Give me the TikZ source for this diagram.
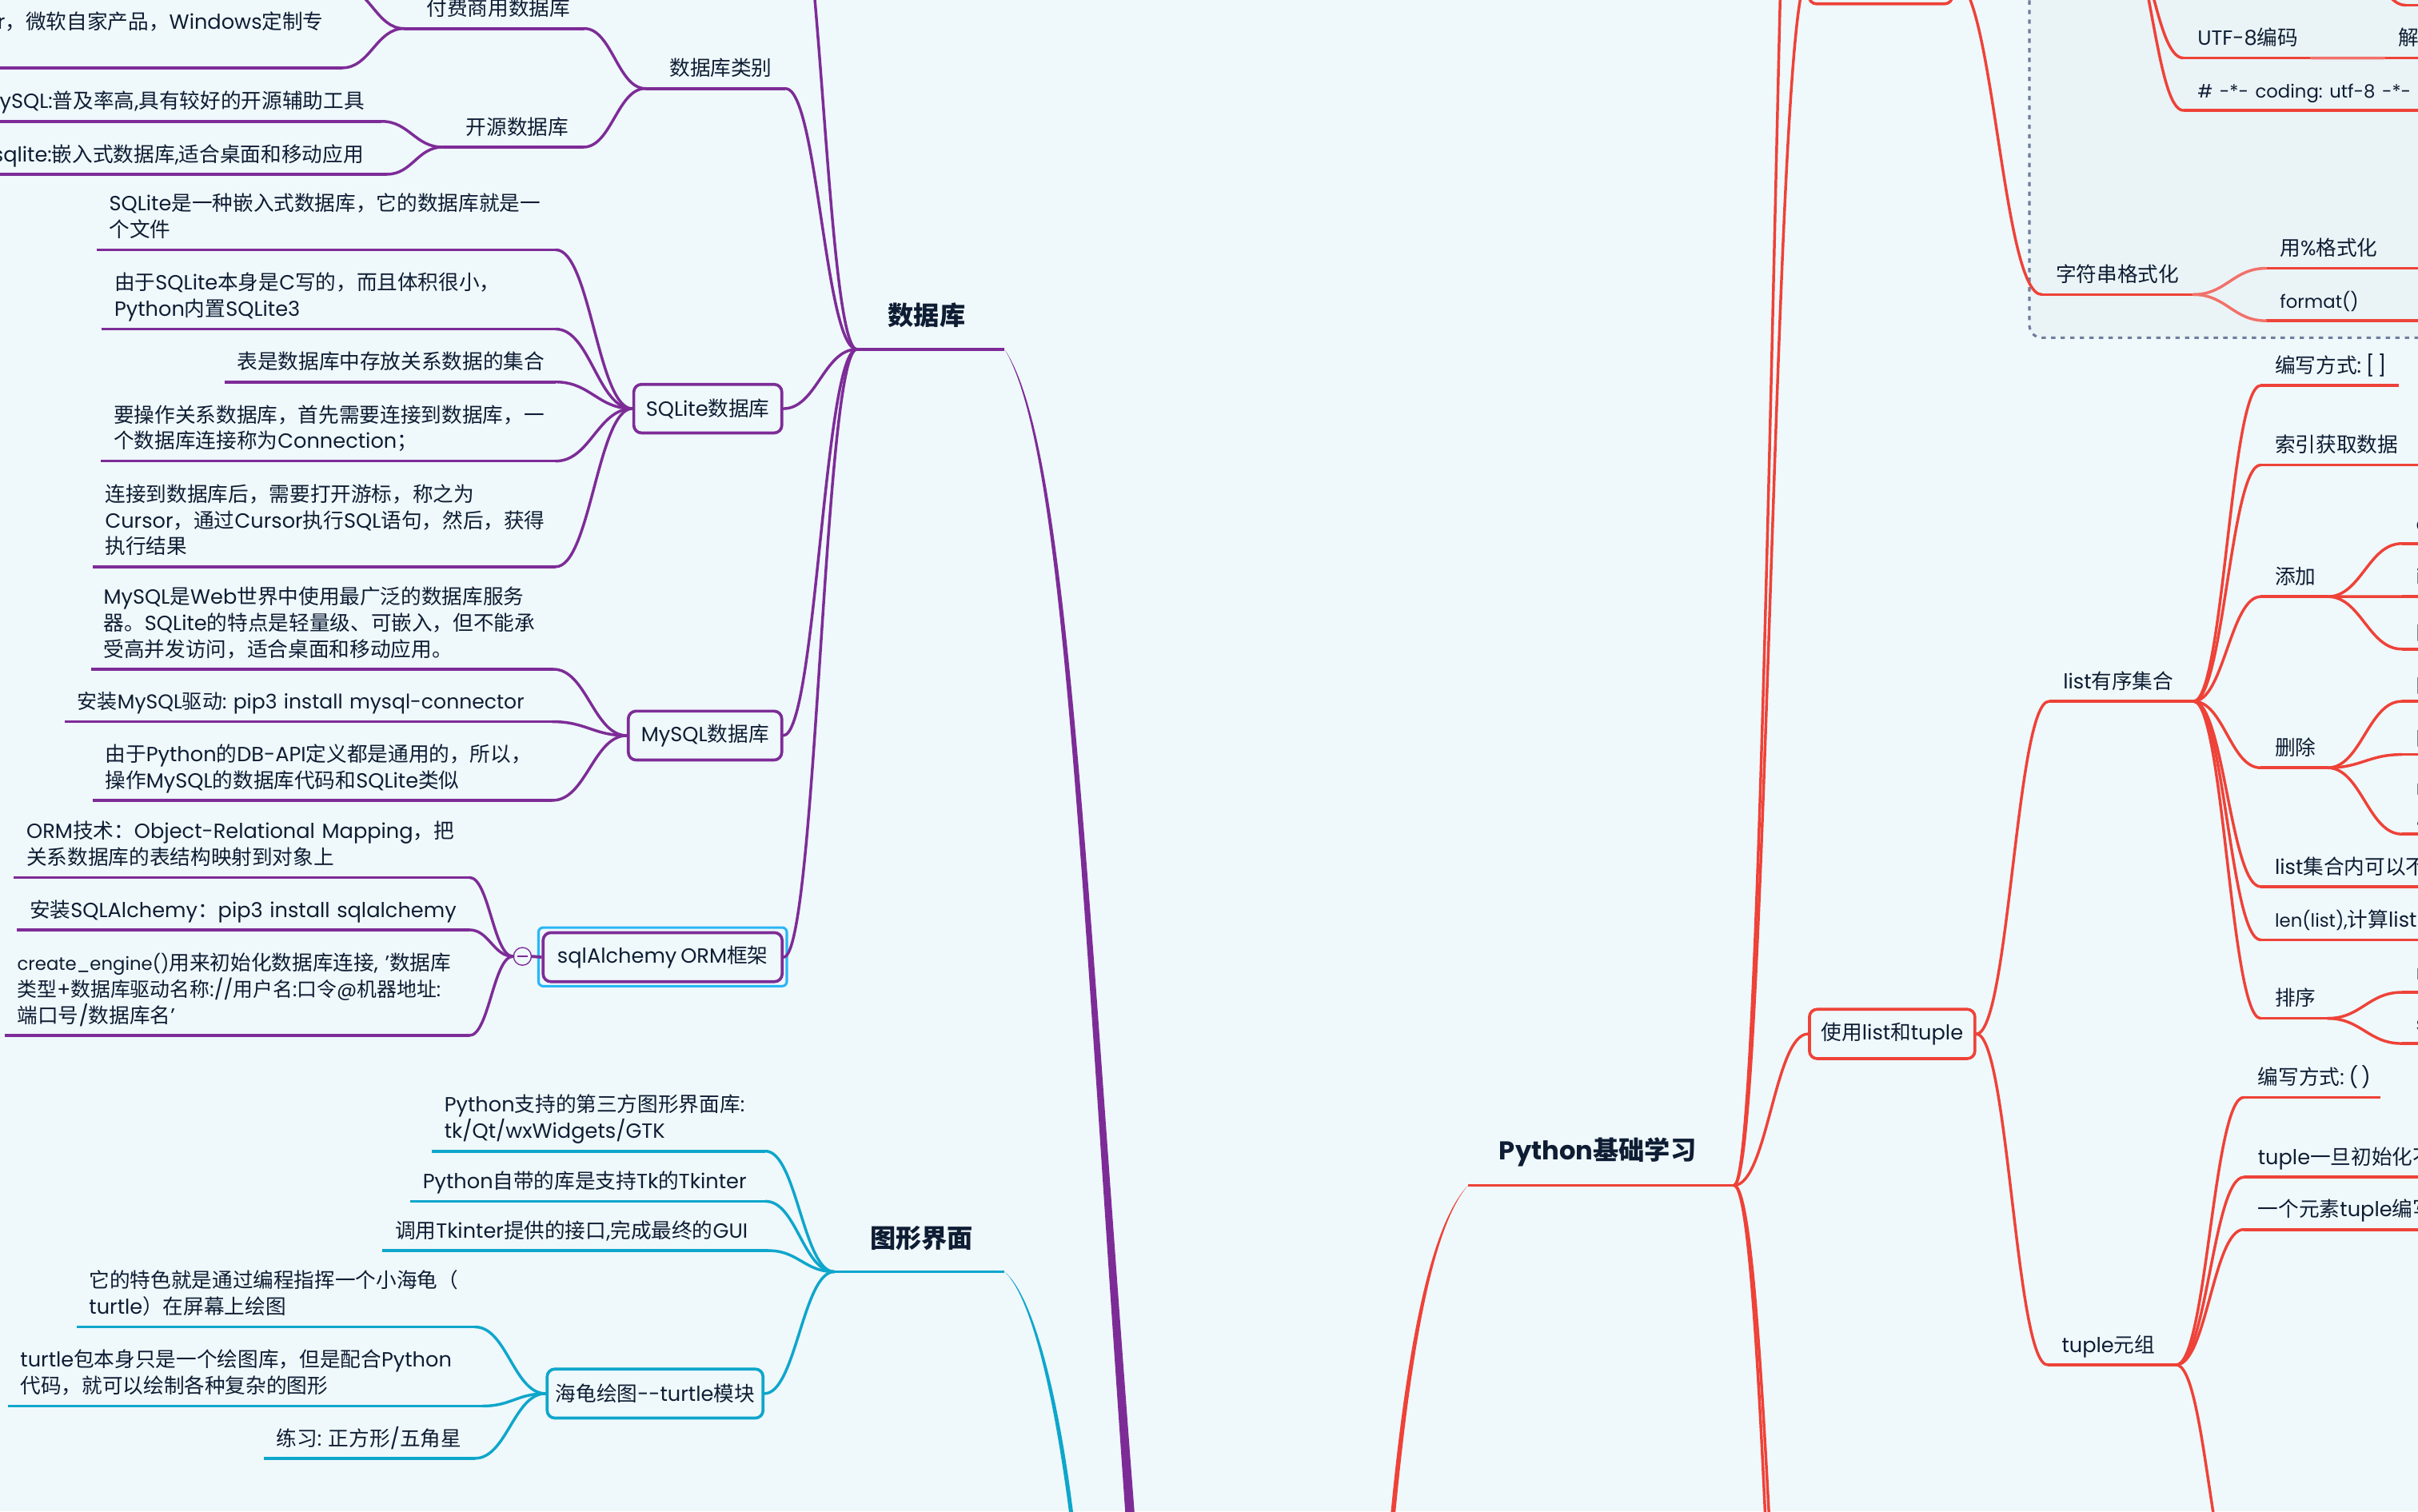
\documentclass[tikz,border=0pt]{standalone}
\usepackage{fontspec}
\usepackage{tikz}
\usetikzlibrary{calc}

\setmainfont{Poppins}[WordSpace=0.72]
\newfontfamily\cjkfont{Noto Sans CJK SC}

% latin letters in the main font, chinese ones in the cjk font
\newXeTeXintercharclass\cjkclass
\newcount\charno
\charno="3000 \loop\ifnum\charno<"3040 \XeTeXcharclass\charno=\cjkclass \advance\charno by 1 \repeat
\charno="4E00 \loop\ifnum\charno<"A000 \XeTeXcharclass\charno=\cjkclass \advance\charno by 1 \repeat
\charno="FF00 \loop\ifnum\charno<"FFF0 \XeTeXcharclass\charno=\cjkclass \advance\charno by 1 \repeat
\XeTeXinterchartokenstate=1
\XeTeXinterchartoks 0 \cjkclass={\cjkfont}
\XeTeXinterchartoks 4095 \cjkclass={\cjkfont}
\XeTeXinterchartoks \cjkclass 0={\rmfamily}
\XeTeXinterchartoks \cjkclass 4095={\rmfamily}
\XeTeXinterchartoks 4095 0={\rmfamily}
\exhyphenpenalty=10000

\definecolor{paper}{HTML}{EFF8FB}
\definecolor{ink}{HTML}{0E1D33}
\definecolor{dbcolor}{HTML}{7D2C97}
\definecolor{guicolor}{HTML}{0EA6CB}
\definecolor{pycolor}{HTML}{EE4238}

\newcommand{\narrowtxt}[1]{{\fontsize{11.8}{17}\selectfont #1}}

\tikzset{
	lnode/.style={anchor=south west, align=left, text width=#1-16, inner xsep=8pt, inner ysep=4.5pt,
		text=ink, font=\fontsize{13.3}{17}\selectfont, execute at end node={\rule[-3.5pt]{0pt}{1pt}}},
	rnode/.style={anchor=south west, align=left, text width=#1-18, inner xsep=9pt, inner ysep=4.5pt,
		text=ink, font=\fontsize{13.3}{17}\selectfont, execute at end node={\rule[-3.5pt]{0pt}{1pt}}},
	title/.style={lnode=#1, inner ysep=12pt, font=\fontsize{16.7}{20}\selectfont\bfseries},
	link/.style={draw, line width=1.8pt, line cap=round, to path={
		.. controls ($(\tikztostart)!.45!(\tikztotarget|-\tikztostart)$)
		and ($(\tikztotarget)!.45!(\tikztostart|-\tikztotarget)$) .. (\tikztotarget)}},
	topicbox/.style={draw=#1, rounded corners=5pt, line width=1.9pt, text=ink, inner sep=0pt,
		font=\fontsize{13.3}{17}\selectfont},
	dbline/.style={link, dbcolor},
	guiline/.style={link, guicolor},
	pyline/.style={link, pycolor},
	fmtline/.style={link, pycolor!75}
}

\begin{document}
\begin{tikzpicture}[x=1pt,y=-1pt]

	\fill[paper] (0,0) rectangle (1568,980);
	\useasboundingbox (0,0) rectangle (1568,980);

	% frame round the string topics
	\filldraw[fill=black!2!paper, draw={rgb,255:red,111;green,126;blue,156}, line width=1.6pt, dash pattern=on 2.8pt off 3.4pt, rounded corners=8pt]
		(1316,-200) rectangle (1700,219);

	%%%% left side: database
	\node[title=95.3] (db) at (555.7,226.5) {\hspace*{12pt}数据库};
	\coordinate (dbtop) at (512,-90);
	\coordinate (dbfoot1) at (730,985);
	\coordinate (dbfoot2) at (736,985);

	\node[lnode=90.5] (kinds) at (418.5,57.4) {\hspace*{7.5pt}数据库类别};
	\node[lnode=116.5] (paid) at (262,18.5) {\hspace*{6.5pt}付费商用数据库};
	\node[lnode=91] (free) at (287,95.4) {\hspace*{7pt}开源数据库};
	\coordinate (paidtop) at (222,-8);
	\node[lnode=400, anchor=south east, align=right, inner xsep=12pt] (paid2) at (222,44) {r，微软自家产品，Windows定制专\\\mbox{}};
	\node[lnode=400, anchor=south east, align=right, inner xsep=11pt] (free1) at (247.5,78.7) {MySQL:普及率高,具有较好的开源辅助工具};
	\node[lnode=400, anchor=south east, align=right, inner xsep=15pt] (free2) at (251,113) {sqlite:嵌入式数据库,适合桌面和移动应用};

	\node[topicbox=dbcolor, minimum width=96, minimum height=31.5] (sqlitebox) at (459,265) {SQLite数据库};
	\node[lnode=297.4] (lite1) at (62.6,162) {SQLite是一种嵌入式数据库，它的数据库就是一\\个文件};
	\node[lnode=294] (lite2) at (66,213.4) {由于SQLite本身是C写的，而且体积很小，\\Python内置SQLite3};
	\node[lnode=214.5] (lite3) at (145.5,247.7) {表是数据库中存放关系数据的集合};
	\node[lnode=294.5] (lite4) at (65.5,299) {要操作关系数据库，首先需要连接到数据库，一\\个数据库连接称为Connection；};
	\node[lnode=300] (lite5) at (60,367.5) {连接到数据库后，需要打开游标，称之为\\Cursor，通过Cursor执行SQL语句，然后，获得\\执行结果};

	\node[topicbox=dbcolor, minimum width=99.5, minimum height=31.7] (mysqlbox) at (457.2,477) {MySQL数据库};
	\node[lnode=299.5] (my1) at (59,434) {MySQL是Web世界中使用最广泛的数据库服务\\器。SQLite的特点是轻量级、可嵌入，但不能承\\受高并发访问，适合桌面和移动应用。};
	\node[lnode=316, font=\fontsize{13}{17}\selectfont] (my2) at (42,468) {安装MySQL驱动:~pip3~install~mysql-connector};
	\node[lnode=298] (my3) at (60,519) {由于Python的DB-API定义都是通用的，所以，\\操作MySQL的数据库代码和SQLite类似};

	\node[draw={rgb,255:red,41;green,182;blue,246}, rounded corners=3pt, line width=1.6pt, minimum width=161, minimum height=38] (ormsel) at (429.7,620.5) {};
	\node[topicbox=dbcolor, minimum width=155, minimum height=31.8] (ormbox) at (429.7,620.7) {sqlAlchemy~ORM框架};
	\node[draw=dbcolor, fill=paper, circle, line width=.7pt, minimum size=11.5pt, inner sep=0pt] (ormfold) at (338.8,620.2) {};
	\node[lnode=295] (orm1) at (9,569) {ORM技术：Object-Relational~Mapping，把\\关系数据库的表结构映射到对象上};
	\node[lnode=293] (orm2) at (11,603) {安装SQLAlchemy：pip3~install~sqlalchemy};
	\node[lnode=301] (orm3) at (3,671.5) {\narrowtxt{create\_engine()}用来初始化数据库连接,~'数据库\\{\fontsize{12.9}{17}\selectfont 类型+数据库驱动名称://用户名:口令@机器地址:}\\端口号/数据库名'};

	\foreach \i in {db,kinds,paid,free,paid2,free1,free2,lite1,lite2,lite3,lite4,lite5,my1,my2,my3,orm1,orm2,orm3}
	{
		\draw[dbcolor, line width=1.9pt] (\i.south west) -- (\i.south east);
	};

	\foreach \i / \j in {
	db.south west/kinds.south east,
	db.south west/dbtop,
	db.south west/sqlitebox.east,
	db.south west/mysqlbox.east,
	db.south west/ormbox.east,
	kinds.south west/paid.south east,
	kinds.south west/free.south east,
	paid.south west/paidtop,
	paid.south west/paid2.south east,
	free.south west/free1.south east,
	free.south west/free2.south east,
	sqlitebox.west/lite1.south east,
	sqlitebox.west/lite2.south east,
	sqlitebox.west/lite3.south east,
	sqlitebox.west/lite4.south east,
	sqlitebox.west/lite5.south east,
	mysqlbox.west/my1.south east,
	mysqlbox.west/my2.south east,
	mysqlbox.west/my3.south east,
	ormfold.west/orm1.south east,
	ormfold.west/orm2.south east,
	ormfold.west/orm3.south east}
	{
		\path (\i) edge[dbline] (\j);
	};
	\draw[dbcolor, line width=2pt] (ormfold.east) -- (ormbox.west);
	\draw[dbcolor, line width=.8pt] ($(ormfold)+(-3.2,0)$) -- ($(ormfold)+(3.2,0)$);

	\fill[dbcolor] (db.south east) .. controls (690,290) and (700,560) .. (dbfoot1)
		-- (dbfoot2) .. controls (703,560) and (693,288) .. (db.south east);

	%%%% left side: gui
	\node[title=110] (gui) at (541,824.7) {\hspace*{15pt}图形界面};
	\coordinate (guifoot1) at (693.8,985);
	\coordinate (guifoot2) at (696.4,985);

	\node[lnode=216] (gui1) at (280,746.5) {Python支持的第三方图形界面库:\\tk/Qt/wxWidgets/GTK};
	\node[lnode=230] (gui2) at (266,779) {Python自带的库是支持Tk的Tkinter};
	\node[lnode=250] (gui3) at (248,811) {调用Tkinter提供的接口,完成最终的GUI};

	\node[topicbox=guicolor, minimum width=140, minimum height=31.8] (turtlebox) at (424.8,903.7) {海龟绘图-{}-turtle模块};
	\node[lnode=258] (t1) at (49.6,860.5) {它的特色就是通过编程指挥一个小海龟（\\turtle）在屏幕上绘图};
	\node[lnode=307.6] (t2) at (5,911.8) {turtle包本身只是一个绘图库，但是配合Python\\代码，就可以绘制各种复杂的图形};
	\node[lnode=136.6] (t3) at (171,945.7) {练习:~正方形/五角星};

	\foreach \i in {gui,gui1,gui2,gui3,t1,t2,t3}
	{
		\draw[guicolor, line width=1.9pt] (\i.south west) -- (\i.south east);
	};

	\foreach \i / \j in {
	gui.south west/gui1.south east,
	gui.south west/gui2.south east,
	gui.south west/gui3.south east,
	gui.south west/turtlebox.east,
	turtlebox.west/t1.south east,
	turtlebox.west/t2.south east,
	turtlebox.west/t3.south east}
	{
		\path (\i) edge[guiline] (\j);
	};

	\fill[guicolor] (gui.south east) .. controls (668,840) and (683,900) .. (guifoot1)
		-- (guifoot2) .. controls (686,900) and (669,839) .. (gui.south east);

	%%%% right side: python
	\node[title=172] (py) at (952,768.7) {\hspace*{12pt}Python基础学习};
	\coordinate (pyfoot1) at (901.5,985);
	\coordinate (pyfoot2) at (904.5,985);
	\coordinate (pytop) at (1178,-500);
	\coordinate (pydown1) at (1174,1400);
	\coordinate (pydown2) at (1180,1400);

	\node[topicbox=pycolor, minimum width=93, minimum height=32] (strbox) at (1219.5,-13.5) {};
	\node[rnode=98] (fmt) at (1324,191) {字符串格式化};
	\node[rnode=300] (fmt1) at (1469.3,174) {用\%格式化};
	\node[rnode=300] (fmt2) at (1469.3,208) {\narrowtxt{format()}};
	\coordinate (codejoin) at (1376,-45);
	\coordinate (upjoin) at (1525,-30);
	\node[rnode=82.5] (utf) at (1415.8,37.6) {UTF-8编码};
	\node[rnode=100] (decode) at (1546,37.6) {解};
	\node[rnode=100] (upper) at (1560,3.4) {};
	\node[rnode=300] (coding) at (1415.8,71.6) {\narrowtxt{\#~-*-~coding:~utf-8~-*-}};

	\node[topicbox=pycolor, minimum width=107.3, minimum height=32] (listbox) at (1227,670.5) {使用list和tuple};
	\node[rnode=93.3] (list) at (1328.7,454.8) {list有序集合};
	\node[rnode=89] (l1) at (1466,250) {编写方式:\kern3pt[\kern2pt]};
	\node[rnode=300] (l2) at (1466,301.5) {索引获取数据};
	\node[rnode=43] (l3) at (1466,386.9) {添加};
	\node[rnode=43] (l4) at (1466,497.9) {删除};
	\node[rnode=300] (l5) at (1466,575) {list集合内可以不};
	\node[rnode=300] (l6) at (1466,609.5) {\narrowtxt{len(list),}计算list};
	\node[rnode=43] (l7) at (1466,660.4) {排序};
	\node[rnode=100] (add1) at (1557.5,352.5) {a};
	\node[rnode=100] (add2) at (1557.5,386.9) {i};
	\node[rnode=100] (add3) at (1557.5,420.9) {p};
	\node[rnode=100] (del1) at (1557.5,454.8) {p};
	\node[rnode=100] (del2) at (1557.5,489.3) {p};
	\node[rnode=100] (del3) at (1557.5,540.9) {r\\/};
	\node[rnode=100] (sort1) at (1557.5,643.5) {r};
	\node[rnode=100] (sort2) at (1557.5,676.7) {s};

	\node[rnode=83] (tuple) at (1327.8,885.1) {tuple元组};
	\coordinate (tupledown) at (1453.6,1040);
	\node[rnode=88] (t4) at (1455,711.6) {编写方式:\kern3pt(\kern2pt)};
	\node[rnode=300] (t5) at (1455,763.4) {tuple一旦初始化不};
	\node[rnode=300] (t6) at (1455,797.3) {一个元素tuple编写};

	\foreach \i in {py,fmt,fmt1,fmt2,utf,decode,upper,coding,list,l1,l2,l3,l4,l5,l6,l7,add1,add2,add3,del1,del2,del3,sort1,sort2,tuple,t4,t5,t6}
	{
		\draw[pycolor, line width=1.9pt] (\i.south west) -- (\i.south east);
	};

	\foreach \i / \j in {
	py.south east/pytop,
	py.south east/strbox.west,
	py.south east/listbox.west,
	py.south east/pydown1,
	py.south east/pydown2,
	strbox.east/fmt.south west,
	codejoin/utf.south west,
	codejoin/coding.south west,
	upjoin/upper.south west,
	listbox.east/list.south west,
	listbox.east/tuple.south west,
	list.south east/l1.south west,
	list.south east/l2.south west,
	list.south east/l3.south west,
	list.south east/l4.south west,
	list.south east/l5.south west,
	list.south east/l6.south west,
	list.south east/l7.south west,
	l3.south east/add1.south west,
	l3.south east/add2.south west,
	l3.south east/add3.south west,
	l4.south east/del1.south west,
	l4.south east/del2.south west,
	l4.south east/del3.south west,
	l7.south east/sort1.south west,
	l7.south east/sort2.south west,
	tuple.south east/t4.south west,
	tuple.south east/t5.south west,
	tuple.south east/t6.south west,
	tuple.south east/tupledown}
	{
		\path (\i) edge[pyline] (\j);
	};

	\foreach \i / \j in {
	fmt.south east/fmt1.south west,
	fmt.south east/fmt2.south west,
	utf.south east/decode.south west}
	{
		\path (\i) edge[fmtline] (\j);
	};

	\fill[pycolor] (py.south west) .. controls (927,795) and (912,875) .. (pyfoot1)
		-- (pyfoot2) .. controls (915,875) and (929,795) .. (py.south west);

\end{tikzpicture}
\end{document}
